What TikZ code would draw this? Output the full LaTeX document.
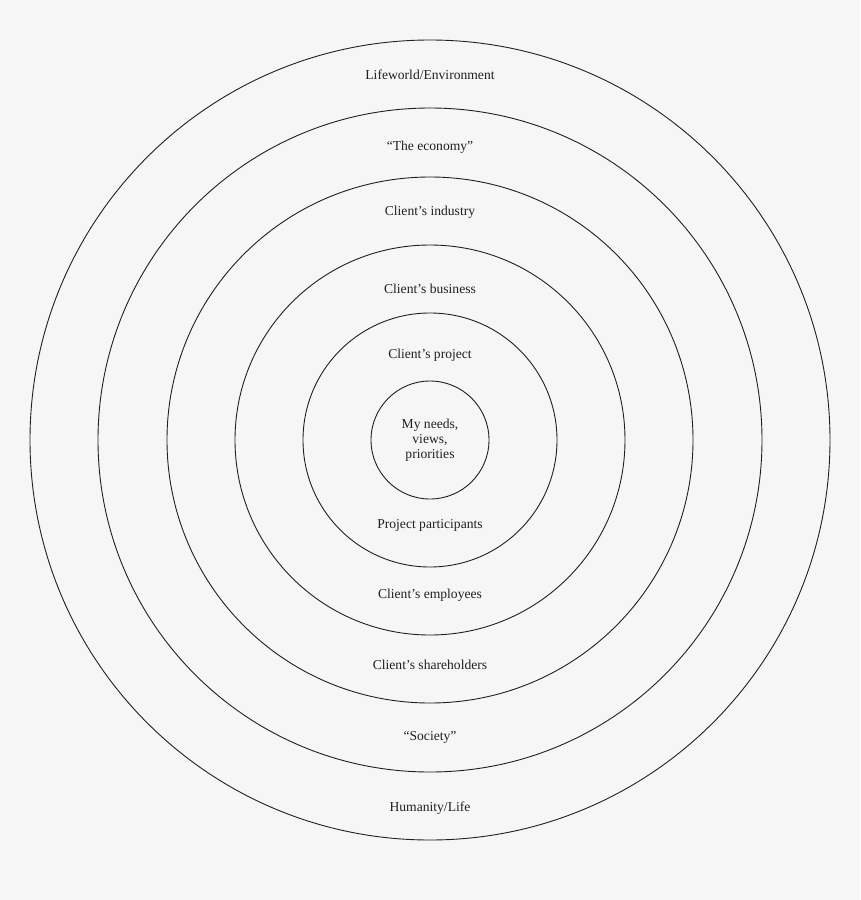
\documentclass[tikz,border=0pt]{standalone}
\usepackage{fontspec}
\setmainfont{Liberation Serif}
\usepackage{tikz}
\usetikzlibrary{positioning}
\definecolor{paper}{HTML}{F6F6F6}
\definecolor{ink}{HTML}{202020}

\begin{document}
\begin{tikzpicture}[x=1pt, y=-1pt, line width=0.9pt,
	ring/.style={draw=ink, circle, inner sep=0pt, fill=none},
	every node/.style={inner sep=0pt, text=ink, font=\fontsize{13.6}{15}\selectfont}]
	\fill[paper] (0,0) rectangle (860,900);
	\useasboundingbox (0,0) rectangle (860,900);
	\node[ring, minimum size=800pt] (life) at (430,440) {};
	\node[ring, minimum size=664pt] (economy) at (430,440) {};
	\node[ring, minimum size=526pt] (industry) at (430,440) {};
	\node[ring, minimum size=390pt] (business) at (430,440) {};
	\node[ring, minimum size=254pt] (project) at (430,440) {};
	\node[ring, minimum size=118pt] (self) at (430,440) {};
	\node (lifelabel) at (430,75) {Lifeworld/Environment};
	\node (economylabel) at (430,147) {“The economy”};
	\node (industrylabel) at (430,212) {Client’s industry};
	\node (businesslabel) at (430,289) {Client’s business};
	\node (projectlabel) at (430,355) {Client’s project};
	\node[align=center] (selflabel) at (430,440) {My needs,\\views,\\priorities};
	\node (participants) at (430,525) {Project participants};
	\node (employees) at (430,595) {Client’s employees};
	\node (shareholders) at (430,665) {Client’s shareholders};
	\node (society) at (430,737) {“Society”};
	\node (humanity) at (430,808) {Humanity/Life};
\end{tikzpicture}
\end{document}
